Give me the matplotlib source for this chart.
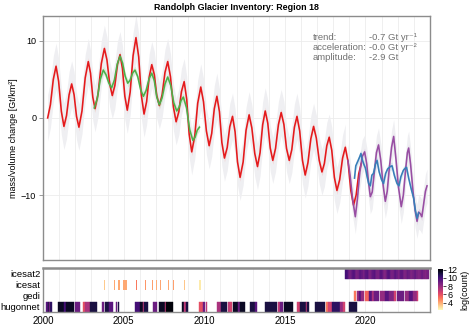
import numpy as np
import matplotlib
matplotlib.use('Agg')
import matplotlib.pyplot as plt
from matplotlib.colors import Normalize
from matplotlib.cm import ScalarMappable

plt.rcParams['font.family'] = ['Liberation Sans', 'DejaVu Sans']

# ---------------- data ----------------
hug_t = [2000.28, 2000.45, 2000.63, 2000.80, 2000.96, 2001.13, 2001.29, 2001.45, 2001.61, 2001.77,
         2001.92, 2002.07, 2002.22, 2002.41, 2002.61, 2002.80, 2002.94, 2003.08, 2003.22, 2003.41,
         2003.61, 2003.80, 2003.96, 2004.13, 2004.29, 2004.45, 2004.61, 2004.77, 2004.92, 2005.07,
         2005.22, 2005.40, 2005.58, 2005.76, 2005.93, 2006.09, 2006.26, 2006.42, 2006.58, 2006.74,
         2006.90, 2007.05, 2007.21, 2007.38, 2007.56, 2007.73, 2007.90, 2008.08, 2008.25, 2008.42,
         2008.58, 2008.75, 2008.91, 2009.06, 2009.22, 2009.41, 2009.59, 2009.78, 2009.95, 2010.13,
         2010.30, 2010.46, 2010.62, 2010.78, 2010.94, 2011.09, 2011.25, 2011.42, 2011.58, 2011.75,
         2011.91, 2012.06, 2012.22, 2012.41, 2012.59, 2012.78, 2012.95, 2013.13, 2013.30, 2013.46,
         2013.62, 2013.78, 2013.94, 2014.09, 2014.25, 2014.42, 2014.60, 2014.77, 2014.94, 2015.10,
         2015.27, 2015.43, 2015.59, 2015.75, 2015.92, 2016.09, 2016.26, 2016.43, 2016.61, 2016.78,
         2016.95, 2017.13, 2017.30, 2017.45, 2017.60, 2017.75, 2017.91, 2018.07, 2018.23, 2018.40,
         2018.58, 2018.75, 2018.92, 2019.09, 2019.26, 2019.42, 2019.58, 2019.74]
hug_v = [0.0, 1.7, 5.0, 6.7, 4.75, 0.85, -1.1, 0.3, 3.0, 4.4,
         3.0, 0.2, -1.2, 0.9, 5.2, 7.3, 5.8, 2.7, 1.2, 3.15,
         7.05, 9.0, 7.5, 4.4, 2.9, 4.2, 6.9, 8.2, 6.4, 2.8,
         1.0, 3.35, 8.05, 10.4, 7.9, 3.0, 0.5, 2.1, 5.3, 6.9,
         5.6, 2.9, 1.6, 3.0, 5.9, 7.3, 5.35, 1.45, -0.5, 0.8,
         3.4, 4.7, 2.4, -2.1, -4.4, -2.3, 1.9, 4.0, 2.1, -1.7,
         -3.6, -2.0, 1.2, 2.8, 0.8, -3.2, -5.2, -3.85, -1.15, 0.2,
         -1.8, -5.7, -7.7, -5.7, -1.6, 0.4, -1.3, -4.6, -6.3, -4.5,
         -0.9, 0.9, -0.7, -3.9, -5.5, -3.95, -0.85, 0.7, -0.85, -3.95,
         -5.5, -4.1, -1.2, 0.2, -1.7, -5.5, -7.4, -5.8, -2.7, -1.1,
         -2.6, -5.5, -7.0, -5.9, -3.6, -2.5, -4.2, -7.7, -9.4, -8.0,
         -5.2, -3.8, -5.7, -9.4, -11.3, -10.0, -7.25, -5.9]

ices_t = [2003.17, 2003.36, 2003.54, 2003.73, 2003.90, 2004.08, 2004.25, 2004.42, 2004.60, 2004.77,
          2004.93, 2005.09, 2005.25, 2005.40, 2005.55, 2005.70, 2005.87, 2006.05, 2006.22, 2006.39,
          2006.57, 2006.74, 2006.90, 2007.05, 2007.21, 2007.38, 2007.56, 2007.73, 2007.92, 2008.10,
          2008.29, 2008.43, 2008.56, 2008.70, 2008.90, 2009.09, 2009.29, 2009.43, 2009.56, 2009.70]
ices_v = [1.3, 2.5, 4.95, 6.2, 5.6, 4.5, 3.9, 4.9, 7.0, 8.0,
          7.1, 5.4, 4.5, 4.9, 5.8, 6.2, 5.35, 3.65, 2.8, 3.55,
          5.05, 5.8, 4.8, 2.7, 1.7, 2.6, 4.4, 5.3, 4.2, 2.0,
          0.9, 1.35, 2.25, 2.7, 1.3, -1.5, -2.9, -2.5, -1.6, -1.2]

is2_t = [2018.91, 2019.05, 2019.20, 2019.37, 2019.50, 2019.65, 2019.80, 2019.95, 2020.08, 2020.20,
         2020.30, 2020.42, 2020.55, 2020.68, 2020.81, 2020.95, 2021.10, 2021.23, 2021.35, 2021.48,
         2021.62, 2021.75, 2021.90, 2022.05, 2022.22, 2022.35, 2022.50, 2022.60, 2022.68, 2022.80,
         2022.95, 2023.08, 2023.20, 2023.30, 2023.40, 2023.50, 2023.62, 2023.72, 2023.82]
is2_v = [-5.5, -7.5, -10.5, -12.8, -10.5, -7.0, -5.0, -4.4, -6.0, -8.5,
         -10.2, -9.6, -7.0, -4.5, -3.5, -5.5, -8.8, -10.8, -9.5, -6.5,
         -3.8, -2.4, -5.5, -9.0, -11.5, -10.0, -6.5, -4.5, -3.9, -6.0,
         -9.5, -12.0, -13.4, -12.2, -12.4, -12.8, -11.0, -9.5, -8.8]

gedi_t = [2019.32, 2019.40, 2019.55, 2019.65, 2019.72, 2019.80, 2019.90, 2020.00, 2020.10, 2020.20,
          2020.30, 2020.40, 2020.50, 2020.62, 2020.72, 2020.85, 2021.00, 2021.12, 2021.25, 2021.38,
          2021.54, 2021.65, 2021.80, 2021.96, 2022.08, 2022.20, 2022.35, 2022.47, 2022.55, 2022.68,
          2022.85, 2022.99, 2023.10, 2023.20, 2023.30]
gedi_v = [-7.8, -6.2, -5.5, -5.0, -4.6, -5.4, -6.0, -6.5, -7.6, -8.5,
          -8.8, -7.4, -7.2, -6.0, -5.5, -7.0, -8.0, -8.5, -7.2, -6.6,
          -6.3, -6.2, -7.5, -8.5, -8.8, -7.6, -6.8, -6.5, -6.4, -7.8,
          -9.3, -10.4, -12.0, -13.0, -12.3]

# coverage (log count) rows
rows = ['icesat2', 'icesat', 'gedi', 'hugonnet']

is2_cov_start = 2018.75
is2_cov = [10.0, 9.8, 9.2, 8.8, 9.0, 9.4, 9.6, 9.0, 8.6, 8.8, 9.3, 9.5, 9.2, 8.7, 8.9, 9.4,
           9.7, 9.1, 8.6, 8.9, 9.3, 9.6, 9.2, 8.8, 8.6, 9.0, 9.5, 9.3, 8.8, 8.5, 8.9, 9.4,
           9.6, 9.0, 8.7, 8.8, 9.2, 9.5, 9.1, 8.6, 8.8, 9.3, 9.4, 8.9, 8.6, 8.8, 9.2, 9.0,
           8.7, 8.5, 8.8, 9.1, 9.3, 8.8, 8.5, 8.6, 8.9, 9.1, 8.7, 8.4, 8.6, 8.8]

ices_cov_t = [2003.80, 2004.42, 2004.71, 2005.02, 2005.14, 2005.81, 2006.37, 2006.80, 2007.05,
              2007.30, 2007.77, 2008.08, 2008.75, 2009.74]
ices_cov = [3.3, 4.0, 4.0, 4.0, 4.0, 5.0, 4.4, 4.2, 3.9, 4.1, 4.0, 4.2, 3.4, 2.6]

gedi_cov_start = [2019.31, 2019.47, 2019.60, 2019.75, 2019.99, 2020.20, 2020.40, 2020.55, 2020.92,
                  2021.20, 2021.45, 2021.75, 2021.96, 2022.47, 2022.70, 2022.95, 2023.20]
gedi_cov_end = [2019.43, 2019.60, 2019.75, 2019.88, 2020.20, 2020.40, 2020.55, 2020.81, 2021.20,
                2021.45, 2021.75, 2021.90, 2022.37, 2022.70, 2022.95, 2023.20, 2023.28]
gedi_cov = [5.0, 8.0, 9.5, 8.0, 5.5, 9.5, 7.5, 9.0, 8.0, 9.5, 8.5, 6.5, 9.0, 8.0, 9.5, 8.0, 6.5]

hug_cov_start = [2000.20, 2000.28, 2000.36, 2000.45, 2000.94, 2001.30, 2001.40, 2001.98, 2002.45,
                 2002.58, 2002.90, 2003.63, 2003.84, 2004.10, 2004.52, 2004.66, 2005.70, 2006.00,
                 2006.18, 2006.26, 2006.80, 2007.22, 2007.55, 2007.62, 2008.62, 2008.75, 2008.88,
                 2009.70, 2009.90, 2010.08, 2010.78, 2011.05, 2011.50, 2011.60, 2011.80, 2012.10,
                 2012.20, 2012.84, 2013.15, 2013.78, 2014.60, 2014.70, 2014.97, 2015.75, 2015.95,
                 2016.32, 2016.40, 2016.88, 2017.55, 2017.70, 2017.92, 2018.43, 2018.62, 2018.95]
hug_cov_end = [2000.28, 2000.36, 2000.45, 2000.52, 2001.30, 2001.40, 2001.91, 2002.29, 2002.58,
               2002.88, 2003.32, 2003.78, 2004.10, 2004.35, 2004.60, 2004.72, 2006.00, 2006.18,
               2006.26, 2006.53, 2007.05, 2007.55, 2007.62, 2008.08, 2008.72, 2008.85, 2009.00,
               2009.90, 2010.05, 2010.14, 2011.05, 2011.40, 2011.60, 2011.70, 2012.10, 2012.20,
               2012.53, 2013.15, 2013.30, 2014.50, 2014.70, 2014.90, 2015.53, 2015.95, 2016.32,
               2016.40, 2016.50, 2017.50, 2017.65, 2017.92, 2018.43, 2018.58, 2018.70, 2019.47]
hug_cov = [9.5, 11.0, 8.5, 10.5, 11.5, 10.0, 11.5, 9.0, 6.0,
           7.5, 11.0, 9.0, 11.0, 9.5, 9.0, 11.0, 10.0, 11.5,
           7.0, 11.0, 9.0, 11.5, 7.0, 12.0, 11.5, 7.0, 11.0,
           6.0, 9.0, 7.0, 7.5, 11.0, 7.0, 6.5, 11.5, 9.0,
           11.5, 11.0, 9.5, 11.0, 7.0, 9.0, 11.5, 6.5, 11.0,
           7.0, 11.0, 11.0, 5.0, 6.5, 10.5, 8.0, 6.5, 11.0]

band_halfwidth_early = 3.0
band_halfwidth_late = 2.2

stats_labels = ['trend:', 'acceleration:', 'amplitude:']
stats_values = ['-0.7 Gt yr\u207b\u00b9', '-0.0 Gt yr\u207b\u00b2', '-2.9 Gt']

# ---------------- figure ----------------
c_red = '#e41a1c'
c_green = '#4daf4a'
c_purple = '#984ea3'
c_blue = '#377eb8'
grid_c = '#ececec'
spine_c = '#8c8c8c'

fig = plt.figure(figsize=(4.74, 3.27), dpi=100)
ax = fig.add_axes([0.091, 0.205, 0.816, 0.746])
axb = fig.add_axes([0.091, 0.045, 0.816, 0.135])
cax = fig.add_axes([0.924, 0.052, 0.011, 0.126])

# uncertainty band (combined record)
ht = np.array(hug_t); hv = np.array(hug_v)
pt = np.array(is2_t); pv = np.array(is2_v)
m = ht < 2018.9
band_c = '#efeff2'
ax.fill_between(ht[m], hv[m] - band_halfwidth_early, hv[m] + band_halfwidth_early,
                color=band_c, lw=0, zorder=1)
ax.fill_between(pt, pv - band_halfwidth_late, pv + band_halfwidth_late,
                color=band_c, lw=0, zorder=1)

# series halos and lines
for t, v, c, hc in [(hug_t, hug_v, c_red, '#f6c4c4'),
                    (ices_t, ices_v, c_green, '#c8e6c6'),
                    (is2_t, is2_v, c_purple, '#dcc6e0'),
                    (gedi_t, gedi_v, c_blue, '#c4d8ec')]:
    t = np.array(t); v = np.array(v)
    ax.fill_between(t, v - 0.5, v + 0.5, color=hc, alpha=0.6, lw=0, zorder=2)
for t, v, c in [(hug_t, hug_v, c_red), (ices_t, ices_v, c_green),
                (is2_t, is2_v, c_purple), (gedi_t, gedi_v, c_blue)]:
    ax.plot(t, v, color=c, lw=1.15, zorder=3)

ax.set_xlim(2000, 2024)
ax.set_ylim(-18.4, 13.2)
ax.set_yticks([-10, 0, 10])
ax.set_yticklabels(['\u221210', '0', '10'])
ax.set_xticks(np.arange(2000, 2025, 1))
ax.tick_params(axis='x', which='both', length=0, labelbottom=False)
ax.tick_params(axis='y', length=3, width=0.6, color=spine_c, labelsize=6.5, pad=2)
ax.grid(True, color=grid_c, lw=0.6, zorder=0)
ax.set_axisbelow(True)
for s in ax.spines.values():
    s.set_color(spine_c); s.set_linewidth(1.0)
ax.set_ylabel('mass/volume change [Gt/km\u00b2]', fontsize=6.5, labelpad=2)
ax.set_title('Randolph Glacier Inventory: Region 18', fontsize=6.4, fontweight='bold', pad=4)

ax.text(0.698, 0.93, '\n'.join(stats_labels), transform=ax.transAxes, fontsize=6.8,
        color='#727272', va='top', ha='left', linespacing=1.15)
ax.text(0.842, 0.93, '\n'.join(stats_values), transform=ax.transAxes, fontsize=6.8,
        color='#727272', va='top', ha='left', linespacing=1.15)

# coverage panel
cmap = plt.get_cmap('magma_r')
norm = Normalize(2.2, 12.2)
h = 0.9
ypos = {'icesat2': 3, 'icesat': 2, 'gedi': 1, 'hugonnet': 0}

is2_edges = is2_cov_start + np.arange(len(is2_cov) + 1) / 12.0
axb.broken_barh([(is2_edges[i], 1 / 12.0) for i in range(len(is2_cov))],
                (ypos['icesat2'] - h / 2, h), facecolors=[cmap(norm(v)) for v in is2_cov],
                edgecolors=[cmap(norm(v)) for v in is2_cov], lw=0.3)
axb.broken_barh([(t - 0.04, 0.08) for t in ices_cov_t], (ypos['icesat'] - h / 2, h),
                facecolors=[cmap(norm(v)) for v in ices_cov], lw=0)
axb.broken_barh([(s, e - s) for s, e in zip(gedi_cov_start, gedi_cov_end)],
                (ypos['gedi'] - h / 2, h), facecolors=[cmap(norm(v)) for v in gedi_cov],
                edgecolors=[cmap(norm(v)) for v in gedi_cov], lw=0.3)
axb.broken_barh([(s, e - s) for s, e in zip(hug_cov_start, hug_cov_end)],
                (ypos['hugonnet'] - h / 2, h), facecolors=[cmap(norm(v)) for v in hug_cov],
                edgecolors=[cmap(norm(v)) for v in hug_cov], lw=0.3)

axb.set_xlim(2000, 2024)
axb.set_ylim(-0.5, 3.5)
axb.set_yticks([ypos[r] for r in rows])
axb.set_yticklabels(rows)
axb.set_xticks(np.arange(2000, 2025, 1), minor=True)
axb.set_xticks([2000, 2005, 2010, 2015, 2020])
axb.tick_params(axis='y', length=0, labelsize=6.8, pad=2)
axb.tick_params(axis='x', which='both', length=0, labelsize=7, pad=3)
axb.grid(True, which='both', axis='x', color=grid_c, lw=0.6, zorder=0)
axb.set_axisbelow(True)
for s in axb.spines.values():
    s.set_color(spine_c); s.set_linewidth(1.0)
axb.spines['top'].set_linewidth(1.8)

sm = ScalarMappable(norm=norm, cmap=cmap)
cb = fig.colorbar(sm, cax=cax, ticks=[4, 6, 8, 10, 12])
cb.outline.set_visible(False)
cax.tick_params(labelsize=6.5, length=2, width=0.5, pad=1)
cb.set_label('log(count)', fontsize=6.5, labelpad=2)

fig.savefig('out.png', dpi=100)
